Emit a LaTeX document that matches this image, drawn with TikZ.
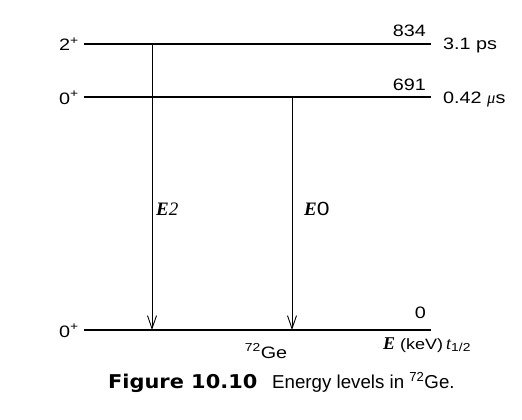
\documentclass[tikz,border=0pt]{standalone}
\usepackage{fontspec}
\setmainfont{Liberation Sans}
\newfontfamily\lab{Liberation Sans}[FakeStretch=1.2]
\newfontfamily\ser{Liberation Serif}
\newfontfamily\capbf{DejaVu Sans}[FakeStretch=1.1]
\usetikzlibrary{arrows.meta}
\tikzset{
  level/.style={line width=1.8pt},
  trans/.style={line width=0.9pt,-{Straight Barb[length=13pt,width=9pt,line width=0.9pt]}},
  lbl/.style={inner sep=0pt,font=\fontsize{16.5}{18}\lab},
  mult/.style={inner sep=0pt,font=\fontsize{19}{20}\ser\bfseries\itshape},
  caplbl/.style={inner sep=0pt,font=\fontsize{18.7}{22}\selectfont},
}
\begin{document}
\begin{tikzpicture}[x=1pt,y=-1pt]
\useasboundingbox (0,0) rectangle (522,420);
% level end points
\coordinate (A1) at (84,44);  \coordinate (A2) at (431,44);
\coordinate (B1) at (84,97);  \coordinate (B2) at (431,97);
\coordinate (C1) at (84,330); \coordinate (C2) at (431,330);
% transition end points
\coordinate (T1s) at (152,44);  \coordinate (T1e) at (152,330);
\coordinate (T2s) at (292,97);  \coordinate (T2e) at (292,330);
% levels
\draw[level] (A1) -- (A2);
\draw[level] (B1) -- (B2);
\draw[level] (C1) -- (C2);
% transitions
\draw[trans] (T1s) -- (T1e);
\draw[trans] (T2s) -- (T2e);
% spin labels
\node[lbl,anchor=base east] (s2) at (79,51) {2\textsuperscript{+}};
\node[lbl,anchor=base east] (s0a) at (79,104) {0\textsuperscript{+}};
\node[lbl,anchor=base east] (s0b) at (79,337) {0\textsuperscript{+}};
% energies
\node[lbl,anchor=base east] (e834) at (426,37) {834};
\node[lbl,anchor=base east] (e691) at (426,90) {691};
\node[lbl,anchor=base east] (e0) at (426,318) {0};
% half lives
\node[lbl,anchor=base west] (h1) at (443,50) {3.1 ps};
\node[lbl,anchor=base west] (h2) at (443,103) {0.42 {\ser\itshape μ}s};
% multipolarities
\node[mult,anchor=base west] (m1) at (156,215) {E{\mdseries 2}};
\node[mult,anchor=base west] (m2) at (304,215) {E{\lab\mdseries\upshape 0}};
% nucleus and axis labels
\node[lbl,anchor=base] (nuc) at (266,358) {\textsuperscript{72}Ge};
\node[inner sep=0pt,font=\fontsize{15}{17}\lab,anchor=base west] (ax) at (383,349) {{\fontsize{18}{20}\ser\bfseries\itshape E} (keV)};
\node[lbl,anchor=base west] (tl) at (446,349) {{\fontsize{18}{20}\ser\itshape t}\textsubscript{1/2}};
% caption
\node[caplbl,anchor=base west] (cap1) at (108,388) {{\fontsize{19}{22}\capbf\bfseries Figure 10.10}};
\node[caplbl,anchor=base west] (cap2) at (272,388) {Energy levels in \textsuperscript{72}Ge.};
\end{tikzpicture}
\end{document}
